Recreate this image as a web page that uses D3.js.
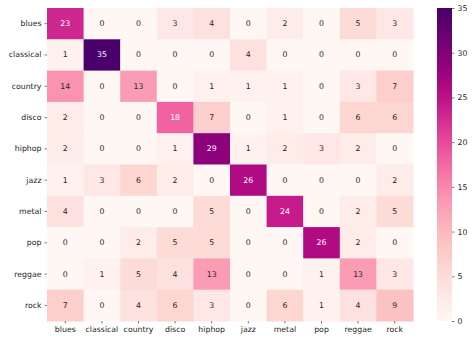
<!DOCTYPE html>
<html><head><meta charset="utf-8">
<script src="https://cdn.jsdelivr.net/npm/d3@7"></script>
<style>body{margin:0;background:#fff}svg{display:block}text{font-family:"DejaVu Sans",sans-serif}</style>
</head><body><svg id="c" width="474" height="341"></svg>
<script>
const labels = ["blues","classical","country","disco","hiphop","jazz","metal","pop","reggae","rock"];
const matrix = [
 [23,0,0,3,4,0,2,0,5,3],
 [1,35,0,0,0,4,0,0,0,0],
 [14,0,13,0,1,1,1,0,3,7],
 [2,0,0,18,7,0,1,0,6,6],
 [2,0,0,1,29,1,2,3,2,0],
 [1,3,6,2,0,26,0,0,0,2],
 [4,0,0,0,5,0,24,0,2,5],
 [0,0,2,5,5,0,0,26,2,0],
 [0,1,5,4,13,0,0,1,13,3],
 [7,0,4,6,3,0,6,1,4,9]
];
const cbTicks = [0,5,10,15,20,25,30,35];

const FS=7.8;
const svg = d3.select("#c");
const L=47,R=413,T=8,B=321;
const x = d3.scaleBand().domain(labels).range([L,R]);
const y = d3.scaleBand().domain(labels).range([T,B]);
const color = d3.scaleSequential(d3.interpolateRdPu).domain([0,35]);

function lum(c){
  const r=d3.rgb(c);
  const f=v=>{v/=255;return v<=0.03928?v/12.92:Math.pow((v+0.055)/1.055,2.4);};
  return 0.2126*f(r.r)+0.7152*f(r.g)+0.0722*f(r.b);
}

const cells=[];
matrix.forEach((row,i)=>row.forEach((v,j)=>cells.push({r:labels[i],c:labels[j],v})));
const g=svg.append("g");
g.selectAll("rect").data(cells).join("rect")
 .attr("x",d=>x(d.c)).attr("y",d=>y(d.r))
 .attr("width",x.bandwidth()+0.5).attr("height",y.bandwidth()+0.5)
 .attr("fill",d=>color(d.v));
g.selectAll("text").data(cells).join("text")
 .attr("x",d=>x(d.c)+x.bandwidth()/2).attr("y",d=>y(d.r)+y.bandwidth()/2)
 .attr("text-anchor","middle").attr("dominant-baseline","central")
 .attr("font-size",FS)
 .attr("fill",d=>lum(color(d.v))>0.408?"#262626":"#ffffff")
 .text(d=>d.v);

const xa=svg.append("g").attr("transform",`translate(0,${B})`).call(d3.axisBottom(x).tickSize(2.5).tickPadding(3));
xa.select(".domain").remove();
const ya=svg.append("g").attr("transform",`translate(${L},0)`).call(d3.axisLeft(y).tickSize(2.5).tickPadding(3));
ya.select(".domain").remove();
[xa,ya].forEach(a=>{a.selectAll("text").attr("font-size",FS).attr("fill","#262626").style("font-family","DejaVu Sans");a.selectAll("line").attr("stroke","#262626").attr("stroke-width",0.6);});

// colorbar
const CL=437,CR=452;
const cy=d3.scaleLinear().domain([0,35]).range([B,T]);
const defs=svg.append("defs");
const grad=defs.append("linearGradient").attr("id","gr").attr("x1",0).attr("y1",1).attr("x2",0).attr("y2",0);
d3.range(0,1.0001,0.05).forEach(t=>grad.append("stop").attr("offset",t).attr("stop-color",d3.interpolateRdPu(t)));
svg.append("rect").attr("x",CL).attr("y",T).attr("width",CR-CL).attr("height",B-T).attr("fill","url(#gr)");
const ca=svg.append("g").attr("transform",`translate(${CR},0)`).call(d3.axisRight(cy).tickValues(cbTicks).tickSize(2.5).tickPadding(3));
ca.select(".domain").remove();
ca.selectAll("text").attr("font-size",FS).attr("fill","#262626").style("font-family","DejaVu Sans");
ca.selectAll("line").attr("stroke","#262626").attr("stroke-width",0.6);
</script></body></html>
